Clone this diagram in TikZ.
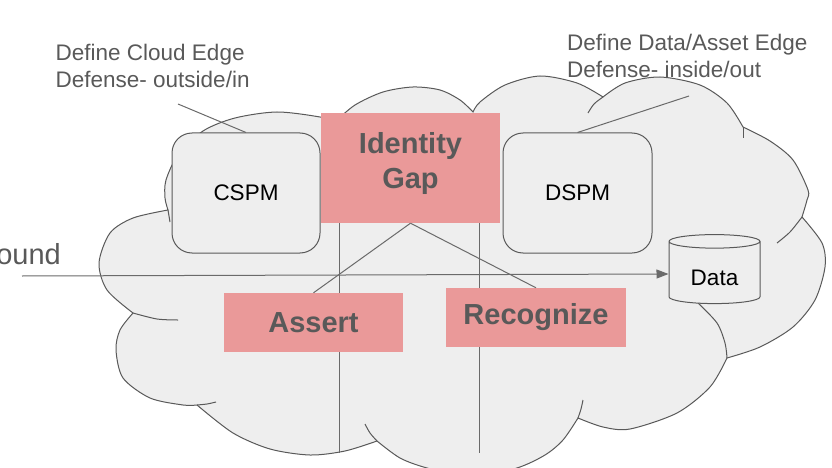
\documentclass[tikz,border=0pt]{standalone}
\usepackage{fontspec}
\setmainfont{Liberation Sans}
\usetikzlibrary{arrows.meta,shapes.geometric}
\definecolor{ink}{HTML}{595959}
\definecolor{mist}{HTML}{EEEEEE}
\definecolor{rose}{HTML}{EA9999}
\tikzset{>={Triangle[length=12pt,width=9pt]}}
\tikzset{
  cloudline/.style={draw=ink,line width=1pt},
  link/.style={draw=ink!90,line width=1pt},
  panel/.style={draw=ink,fill=mist,line width=1pt,rounded corners=20pt,
    text=black,font=\fontsize{22.5}{27}\selectfont},
  tag/.style={fill=rose,text=ink,align=center,
    font=\bfseries\fontsize{29}{35}\selectfont},
  note/.style={text=ink,align=left,inner sep=0pt,
    font=\fontsize{22.5}{27}\selectfont},
}

\begin{document}
\begin{tikzpicture}[x=1pt,y=-1pt]
  \useasboundingbox (0,0) rectangle (832,468);
  \clip (0,0) rectangle (832,468);
  % cloud outline, bulge by bulge
  \filldraw[cloudline,fill=mist]
    plot[smooth] coordinates {(168,210) (133,218) (110,233) (99,263) (107,290) (133,313)}
    -- plot[smooth] coordinates {(133,313) (120,330) (116,350) (123,378) (150,398) (183,405) (197,405)}
    -- plot[smooth] coordinates {(197,405) (233,433) (270,449) (310,455) (345,451) (377,441)}
    -- plot[smooth] coordinates {(377,441) (400,458) (427,468) (472,478) (517,468) (545,455) (563,440) (578,418)}
    -- plot[smooth] coordinates {(578,418) (603,427) (630,429) (677,413) (710,387) (727,358)}
    -- plot[smooth] coordinates {(727,358) (760,347) (793,327) (815,300) (825,267) (822,243) (802,217)}
    -- plot[smooth] coordinates {(802,217) (807,200) (808,190) (793,160) (770,141) (743,127)}
    -- plot[smooth] coordinates {(743,127) (727,103) (700,85) (660,77) (625,83) (603,97)}
    -- plot[smooth] coordinates {(603,97) (577,83) (540,76) (505,85) (480,102) (473,112)}
    -- plot[smooth] coordinates {(473,112) (460,100) (440,90) (413,87) (383,92) (355,105) (335,122)}
    -- plot[smooth] coordinates {(335,122) (320,117) (277,112) (235,118) (203,131) (178,155) (166,180) (165,198) (168,210)}
    -- cycle;
  % inner hooks
  \draw[cloudline] (168,210) -- (170,222);
  \draw[cloudline] plot[smooth] coordinates {(133,313) (157,319) (178,320)};
  \draw[cloudline] plot[smooth] coordinates {(197,405) (207,404) (216,402)};
  \draw[cloudline] plot[smooth] coordinates {(365,424) (370,433) (377,441)};
  \draw[cloudline] plot[smooth] coordinates {(578,418) (581,409) (583,400)};
  \draw[cloudline] plot[smooth] coordinates {(727,358) (725,343) (717,323) (698,303)};
  \draw[cloudline] plot[smooth] coordinates {(802,217) (790,232) (777,243)};
  \draw[cloudline] (743,127) -- (743,138);
  \draw[cloudline] plot[smooth] coordinates {(603,97) (594,104) (588,113)};

  \node[panel,minimum width=148pt,minimum height=120pt] (cspm) at (246,193) {CSPM};
  \node[panel,minimum width=149pt,minimum height=120pt] (dspm) at (577.5,193) {DSPM};
  \node[tag,minimum width=179pt,minimum height=110pt,text depth=16pt] (gap) at (410.5,168) {Identity\\Gap};
  \node[tag,minimum width=179pt,minimum height=59pt] (assert) at (313.5,322.5) {Assert};
  \node[tag,minimum width=180pt,minimum height=59pt] (recog) at (536,317.5) {Recognize};
  \node[cylinder,shape border rotate=90,aspect=0.25,draw=ink,fill=mist,line width=1pt,
    minimum width=91pt,minimum height=69pt,text height=24pt,
    font=\fontsize{22.5}{27}\selectfont] (data) at (714.5,274) {Data};

  \coordinate (floorL) at (339,453);
  \coordinate (floorR) at (479,453);
  \coordinate (tagL) at (178,104);
  \coordinate (tagR) at (689,96);
  \coordinate (src) at (22,276);

  \draw[link] (gap.south) -- (assert.north);
  \draw[link] (gap.south) -- (recog.north);
  \draw[link] (gap.south -| floorL) -- (assert.north -| floorL)
    (assert.south -| floorL) -- (floorL);
  \draw[link] (gap.south -| floorR) -- (recog.north -| floorR)
    (recog.south -| floorR) -- (floorR);
  \draw[link,->] (src) -- (data.west);
  \draw[link] (tagL) -- (cspm.north);
  \draw[link] (tagR) -- (dspm.north);

  \node[note,anchor=north west] (noteL) at (55.5,43.5) {Define Cloud Edge\\Defense- outside/in};
  \node[note,anchor=north west] (noteR) at (567,33.5) {Define Data/Asset Edge\\Defense- inside/out};
  \node[text=ink,inner sep=0pt,anchor=base east,font=\fontsize{29}{35}\selectfont]
    (flow) at (61,264) {ound};
\end{tikzpicture}
\end{document}
